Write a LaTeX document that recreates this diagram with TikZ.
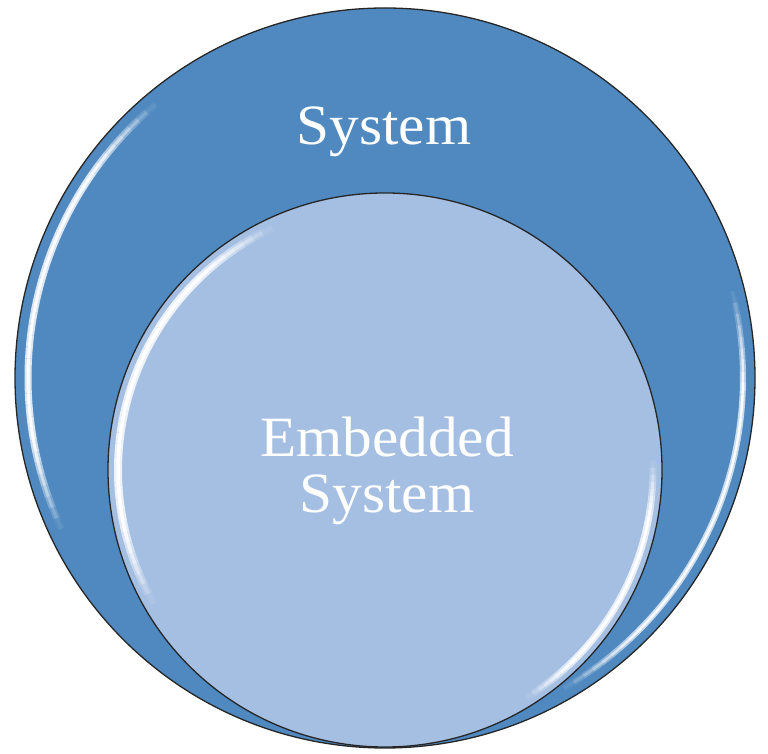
\documentclass[tikz,border=0pt]{standalone}
\usepackage{fontspec}
\setmainfont{Liberation Serif}[FakeStretch=1.04]
\definecolor{outerblue}{RGB}{79,137,192}
\definecolor{innerblue}{RGB}{165,191,227}
\newcommand{\glowarc}[6]{%
  \foreach \i in {1,...,40}{%
    \pgfmathsetmacro{\aa}{#3+(#4-#3)*(\i-1)/40}%
    \pgfmathsetmacro{\bb}{#3+(#4-#3)*\i/40}%
    \pgfmathsetmacro{\op}{#6*min(1,1.6*sin(180*(\i-0.5)/40))}%
    \draw[white, line width=#5, opacity=\op, line cap=butt]
      ([shift={(\aa:#2)}]#1) arc[start angle=\aa, end angle=\bb, radius=#2];
  }%
}
\begin{document}
\begin{tikzpicture}[x=1pt,y=1pt,
  disc/.style={circle, draw=black!85, line width=1.3pt, inner sep=0pt},
  label/.style={text=white, font=\fontsize{57}{56}\selectfont, align=center, anchor=base}]
\useasboundingbox (0,0) rectangle (768,754);
% outer circle
\node[disc, fill=outerblue, minimum size=740pt] (outer) at (385,376) {};
\coordinate (oc) at (385,376);
\glowarc{oc}{357}{130}{205}{7pt}{0.8}
\glowarc{oc}{357}{130}{205}{3pt}{0.9}
\glowarc{oc}{358}{14}{-60}{6pt}{0.7}
\glowarc{oc}{358}{14}{-60}{2.5pt}{0.9}
% inner circle
\node[disc, fill=innerblue, minimum size=554pt] (inner) at (385,284) {};
\coordinate (ic) at (385,284);
\glowarc{ic}{267}{115}{210}{8pt}{0.8}
\glowarc{ic}{267}{115}{210}{3.5pt}{1}
\glowarc{ic}{268}{2}{-58}{7pt}{0.75}
\glowarc{ic}{268}{2}{-58}{3pt}{1}
% labels
\node[label] (sys) at (384,609) {System};
\node[label] (emb) at (387,241) {Embedded\\System};
\end{tikzpicture}
\end{document}
